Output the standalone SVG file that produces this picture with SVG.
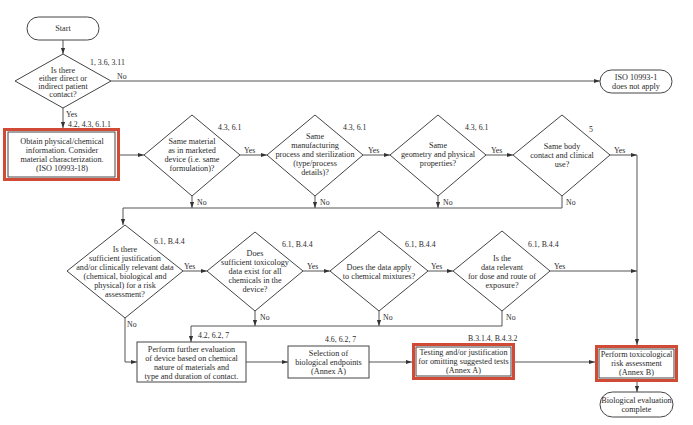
<svg xmlns="http://www.w3.org/2000/svg" width="693" height="425" viewBox="0 0 693 425">
<defs>
<marker id="arr" viewBox="0 0 10 10" refX="10" refY="5" markerWidth="6" markerHeight="6" orient="auto" markerUnits="userSpaceOnUse">
<path d="M0,1.5 L10,5 L0,8.5 Z" fill="#333"/>
</marker>
<style>
text{font-family:"Liberation Serif","DejaVu Serif",serif;font-size:8.2px;fill:#2a2a2a;text-anchor:middle}
.l{text-anchor:start;font-size:7.8px}
.s{fill:#fff;stroke:#444;stroke-width:1}
.r{fill:none;stroke:#d04a36;stroke-width:3}
.c{fill:none;stroke:#555;stroke-width:1}
.a{marker-end:url(#arr)}
</style>
</defs>
<rect width="693" height="425" fill="#fff"/>
<g id="connectors">
<path class="c a" d="M63,40 V54"/>
<path class="c a" d="M111,81 H600"/>
<path class="c a" d="M63,108 V128"/>
<path class="c a" d="M120,155 H144"/>
<path class="c a" d="M240,155 H267"/>
<path class="c a" d="M363,155 H390"/>
<path class="c a" d="M486,155 H513"/>
<path class="c a" d="M610,155 H637"/>
<path class="c a" d="M637,155 V345"/>
<path class="c a" d="M192,196 V208"/>
<path class="c a" d="M315,196 V208"/>
<path class="c a" d="M438,196 V208"/>
<path class="c a" d="M562,196 V208 H123 V225"/>
<path class="c a" d="M183,271 H207"/>
<path class="c a" d="M303,271 H330"/>
<path class="c a" d="M428,271 H453"/>
<path class="c a" d="M550,271 H637"/>
<path class="c a" d="M255,311 V326"/>
<path class="c a" d="M379,311 V326"/>
<path class="c a" d="M502,311 V326 H191 V342"/>
<path class="c a" d="M125,318 V362 H137"/>
<path class="c a" d="M246,362 H288"/>
<path class="c a" d="M369,362 H412"/>
<path class="c a" d="M515,362 H595"/>
<path class="c a" d="M637,381 V392"/>
<text class="l" x="90" y="65">1, 3.6, 3.11</text>
<text class="l" x="117" y="79">No</text>
<text class="l" x="66" y="117">Yes</text>
<text class="l" x="68" y="126.5">4.2, 4.3, 6.1.1</text>
<text class="l" x="218" y="130">4.3, 6.1</text>
<text class="l" x="244" y="153">Yes</text>
<text class="l" x="197" y="205">No</text>
<text class="l" x="343" y="130">4.3, 6.1</text>
<text class="l" x="368" y="153">Yes</text>
<text class="l" x="320" y="205">No</text>
<text class="l" x="465" y="130">4.3, 6.1</text>
<text class="l" x="491" y="153">Yes</text>
<text class="l" x="443" y="205">No</text>
<text class="l" x="589" y="132">5</text>
<text class="l" x="614" y="153">Yes</text>
<text class="l" x="566" y="205">No</text>
<text class="l" x="154" y="244">6.1, B.4.4</text>
<text class="l" x="184" y="269">Yes</text>
<text class="l" x="127" y="327">No</text>
<text class="l" x="282" y="247">6.1, B.4.4</text>
<text class="l" x="307" y="269">Yes</text>
<text class="l" x="260" y="320">No</text>
<text class="l" x="405" y="247">6.1, B.4.4</text>
<text class="l" x="431" y="269">Yes</text>
<text class="l" x="383" y="320">No</text>
<text class="l" x="528" y="247">6.1, B.4.4</text>
<text class="l" x="554" y="269">Yes</text>
<text class="l" x="506" y="320">No</text>
<text class="l" x="198" y="338">4.2, 6.2, 7</text>
<text class="l" x="325" y="342">4.6, 6.2, 7</text>
<text class="l" x="468" y="341">B.3.1.4, B.4.3.2</text>
</g>
<g id="start">
<rect class="s" x="27" y="17" width="72" height="23" rx="11.5"/>
<text x="63" y="31">Start</text>
</g>
<g id="d1">
<polygon class="s" points="63,54 111,81 63,108 15,81"/>
<text x="63" y="73">Is there</text>
<text x="63" y="81">either direct or</text>
<text x="63" y="89">indirect patient</text>
<text x="63" y="97">contact?</text>
</g>
<g id="iso">
<rect class="s" x="600" y="70" width="72" height="23" rx="11.5"/>
<text x="636" y="79.5">ISO 10993-1</text>
<text x="636" y="88.5">does not apply</text>
</g>
<g id="obtain">
<rect class="r" x="4.5" y="129.5" width="114" height="50"/>
<rect class="s" x="8" y="132" width="107" height="45"/>
<text x="62" y="144">Obtain physical/chemical</text>
<text x="62" y="153">information. Consider</text>
<text x="62" y="162">material characterization.</text>
<text x="62" y="171">(ISO 10993-18)</text>
</g>
<g id="d2">
<polygon class="s" points="192,115 240,155 192,196 144,155"/>
<text x="192" y="144">Same material</text>
<text x="192" y="153">as in marketed</text>
<text x="192" y="162">device (i.e. same</text>
<text x="192" y="171">formulation)?</text>
</g>
<g id="d3">
<polygon class="s" points="315,115 363,155 315,196 267,155"/>
<text x="315" y="139">Same</text>
<text x="315" y="148">manufacturing</text>
<text x="315" y="157">process and sterilization</text>
<text x="315" y="166">(type/process</text>
<text x="315" y="175">details)?</text>
</g>
<g id="d4">
<polygon class="s" points="438,115 486,155 438,196 390,155"/>
<text x="438" y="148">Same</text>
<text x="438" y="157">geometry and physical</text>
<text x="438" y="166">properties?</text>
</g>
<g id="d5">
<polygon class="s" points="562,115 610,155 562,196 513,155"/>
<text x="562" y="149">Same body</text>
<text x="562" y="158">contact and clinical</text>
<text x="562" y="167">use?</text>
</g>
<g id="d6">
<polygon class="s" points="125,225 183,271 125,318 67,271"/>
<text x="125" y="252">Is there</text>
<text x="125" y="261">sufficient justification</text>
<text x="125" y="270">and/or clinically relevant data</text>
<text x="125" y="279">(chemical, biological and</text>
<text x="125" y="288">physical) for a risk</text>
<text x="125" y="297">assessment?</text>
</g>
<g id="d7">
<polygon class="s" points="255,232 303,271 255,311 207,271"/>
<text x="255" y="256">Does</text>
<text x="255" y="265">sufficient toxicology</text>
<text x="255" y="274">data exist for all</text>
<text x="255" y="283">chemicals in the</text>
<text x="255" y="292">device?</text>
</g>
<g id="d8">
<polygon class="s" points="379,231 428,271 379,311 330,271"/>
<text x="379" y="270">Does the data apply</text>
<text x="379" y="279">to chemical mixtures?</text>
</g>
<g id="d9">
<polygon class="s" points="502,231 550,271 502,311 453,271"/>
<text x="502" y="261">Is the</text>
<text x="502" y="270">data relevant</text>
<text x="502" y="279">for dose and route of</text>
<text x="502" y="288">exposure?</text>
</g>
<g id="further">
<rect class="s" x="137" y="342" width="109" height="40"/>
<text x="191.5" y="351.5">Perform further evaluation</text>
<text x="191.5" y="360.5">of device based on chemical</text>
<text x="191.5" y="369.5">nature of materials and</text>
<text x="191.5" y="378.5">type and duration of contact.</text>
</g>
<g id="endpoints">
<rect class="s" x="288" y="346" width="81" height="32"/>
<text x="328.5" y="356">Selection of</text>
<text x="328.5" y="365">biological endpoints</text>
<text x="328.5" y="374">(Annex A)</text>
</g>
<g id="testing">
<rect class="r" x="413.5" y="344.5" width="100" height="34"/>
<rect class="s" x="416" y="347" width="95" height="29"/>
<text x="463.5" y="355">Testing and/or justification</text>
<text x="463.5" y="364">for omitting suggested tests</text>
<text x="463.5" y="373">(Annex A)</text>
</g>
<g id="tra">
<rect class="r" x="596.5" y="346.5" width="80" height="34"/>
<rect class="s" x="599" y="349" width="75" height="29"/>
<text x="636.5" y="356.5">Perform toxicological</text>
<text x="636.5" y="365.5">risk assessment</text>
<text x="636.5" y="374.5">(Annex B)</text>
</g>
<g id="end">
<rect class="s" x="600" y="392" width="73" height="25" rx="12.5"/>
<text x="636.5" y="402.5">Biological evaluation</text>
<text x="636.5" y="411.5">complete</text>
</g>
</svg>
